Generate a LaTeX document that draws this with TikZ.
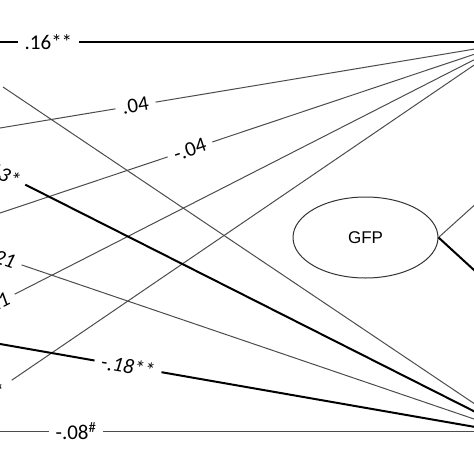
\documentclass[tikz,border=0pt]{standalone}
\usepackage{fontspec}
\setmainfont{Carlito}
\newfontfamily\gfpfont{Liberation Sans}
\usetikzlibrary{shapes.geometric}
\begin{document}
\begin{tikzpicture}[x=1pt,y=-1pt,
  thinline/.style={draw=black!70, line width=1pt},
  thickline/.style={draw=black, line width=2pt},
  lbl/.style={fill=white, sloped, inner xsep=7pt, inner ysep=1pt, font=\fontsize{21}{25}\selectfont},
  ilbl/.style={lbl, font=\fontsize{21}{25}\selectfont\itshape},
]
\useasboundingbox (0,0) rectangle (474,474);
\clip (0,0) rectangle (474,474);
% end points (outside the visible crop)
\coordinate (L0) at (-60,42);
\coordinate (R0) at (520,42);
\coordinate (T) at (505,44);
\coordinate (B) at (521,435);
\coordinate (L1) at (-60,138);
\coordinate (L2) at (-60,233.1);
\coordinate (L3) at (-60,332.3);
\coordinate (L4) at (-60,429.1);
\coordinate (S5) at (3,87);
\coordinate (L6) at (-60,141.6);
\coordinate (L7) at (-60,237.1);
\coordinate (L8) at (-60,333.5);
\coordinate (L9) at (-60,431);
\coordinate (R9) at (520,431);
\coordinate (G1) at (510,173);
\coordinate (G2) at (510,303);
% GFP
\node[ellipse, draw=black!80, line width=1pt, minimum width=145pt, minimum height=81pt, inner sep=0pt,
  font={\gfpfont\fontsize{17}{20}\selectfont}] (gfp) at (365.5,237.5) {GFP};
% thin lines
\path[thinline] (L1) -- (T) node[lbl, pos=0.346] {.04};
\path[thinline] (L2) -- (T) node[lbl, pos=0.4425] {-.04};
\path[thinline] (L3) -- (T) node[ilbl, pos=0.1327, anchor=east] {.11};
\path[thinline] (L4) -- (T) node[lbl, pos=0.1274, anchor=east, inner xsep=9.5pt] {.06\textsuperscript{\#}};
\path[thinline] (S5) -- (B);
\path[thinline] (L7) -- (B) node[ilbl, pos=0.1411, anchor=east] {.21};
\path[thinline] (L9) -- (R9) node[lbl, pos=0.2345] {-.08\textsuperscript{\#}};
\path[thinline] (gfp.east) -- (G1);
% thick lines
\path[thickline] (L0) -- (R0) node[lbl, pos=0.187] {.16**};
\path[thickline] (L6) -- (B) node[ilbl, pos=0.148, anchor=east] {.13*};
\path[thickline] (L8) -- (B) node[ilbl, pos=0.3236] {-.18**};
\path[thickline] (gfp.east) -- (G2);
\end{tikzpicture}
\end{document}
